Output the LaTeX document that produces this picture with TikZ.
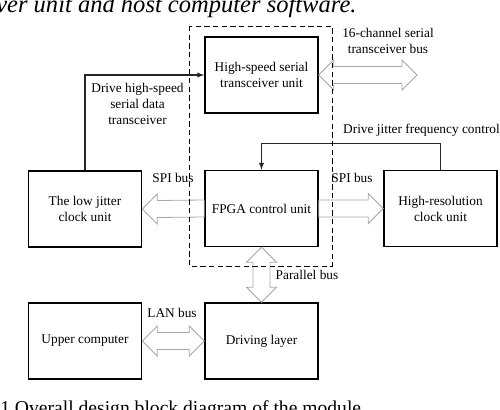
\documentclass[tikz,border=0pt]{standalone}
\usepackage{fontspec}
\setmainfont{Liberation Serif}
\usetikzlibrary{arrows}
\usetikzlibrary{calc,positioning}

% double headed bus, #1 left end, #2 right end
\newcommand{\busLR}[2]{%
  \draw[bus] (#1) -- ($(#1)+(15,-15)$) -- ($(#1)+(15,-8.5)$) -- ($(#2)+(-15,-8.5)$)
    -- ($(#2)+(-15,-15)$) -- (#2) -- ($(#2)+(-15,15)$) -- ($(#2)+(-15,8.5)$)
    -- ($(#1)+(15,8.5)$) -- ($(#1)+(15,15)$) -- cycle;}
% double headed bus, #1 top end, #2 bottom end
\newcommand{\busTB}[2]{%
  \draw[bus] (#1) -- ($(#1)+(15,15)$) -- ($(#1)+(8.5,15)$) -- ($(#2)+(8.5,-15)$)
    -- ($(#2)+(15,-15)$) -- (#2) -- ($(#2)+(-15,-15)$) -- ($(#2)+(-8.5,-15)$)
    -- ($(#1)+(-8.5,15)$) -- ($(#1)+(-15,15)$) -- cycle;}
% one headed bus, tail #1, head #2, #3 signed head length
\newcommand{\busone}[3]{%
  \draw[bus] ($(#1)+(0,8.5)$) -- ($(#2)-(#3,-8.5)$) -- ($(#2)-(#3,-15)$) -- (#2)
    -- ($(#2)-(#3,15)$) -- ($(#2)-(#3,8.5)$) -- ($(#1)-(0,8.5)$) -- cycle;}

\begin{document}
\begin{tikzpicture}[x=0.75pt,y=-0.75pt]
      \useasboundingbox (0,0) rectangle (500,410);
      \clip (0,0) rectangle (500,410);
      \tikzstyle{unit}=[draw,line width=1.2pt,minimum width=84.75pt,minimum height=57pt,align=center,inner sep=0pt]
      \tikzstyle{bus}=[draw=gray!70,line width=0.6pt,line join=miter]
      \tikzstyle{ctrl}=[-latex,line width=0.8pt,draw=black!85]
      \tikzstyle{lbl}=[align=center,inner sep=0pt]

      % page text cut by the frame
      \node[anchor=base west,inner sep=0pt,font=\fontsize{18.4}{22}\selectfont\itshape] (pagetop) at (-4,13) {ver unit and host computer software.};
      \node[anchor=base west,inner sep=0pt,font=\fontsize{14.7}{17}\selectfont] (caption) at (0,414) {1 Overall design block diagram of the module.};

      \node[unit] (hs)    at (261.5,75)    {High-speed serial\\transceiver unit};
      \node[unit] (fpga)  at (261.5,208.5) {FPGA control unit};
      \node[unit] (lowj)  at (85,209)      {The low jitter\\clock unit};
      \node[unit] (hires) at (440.5,208.5) {High-resolution\\clock unit};
      \node[unit] (upper) at (85,341)      {Upper computer};
      \node[unit] (drive) at (261.5,341)   {Driving layer};
      \coordinate (busend) at (417,75);

      \busLR{hs.east}{busend}
      \busone{fpga.west}{lowj.east}{-15}
      \busone{fpga.east}{hires.west}{15}
      \busTB{fpga.south}{drive.north}
      \busLR{upper.east}{drive.west}

      \draw[ctrl] (lowj.north) |- (hs.west);
      \draw[ctrl] (hires.north) -- ++(0,-26) -| (fpga.north);

      \draw[line width=0.7pt,dash pattern=on 4pt off 2.5pt] (189,26) rectangle (332,266);

      \node[lbl] (l16)  at (388,41)    {16-channel serial\\transceiver bus};
      \node[lbl] (ldrv) at (137.5,104) {Drive high-speed\\serial data\\transceiver};
      \node[lbl] (ljit) at (421.5,130) {Drive jitter frequency control};
      \node[lbl] (lspl) at (173,178)   {SPI bus};
      \node[lbl] (lspr) at (352,178)   {SPI bus};
      \node[lbl] (lpar) at (307,275)   {Parallel bus};
      \node[lbl] (llan) at (172,313)   {LAN bus};
    \end{tikzpicture}
\end{document}
